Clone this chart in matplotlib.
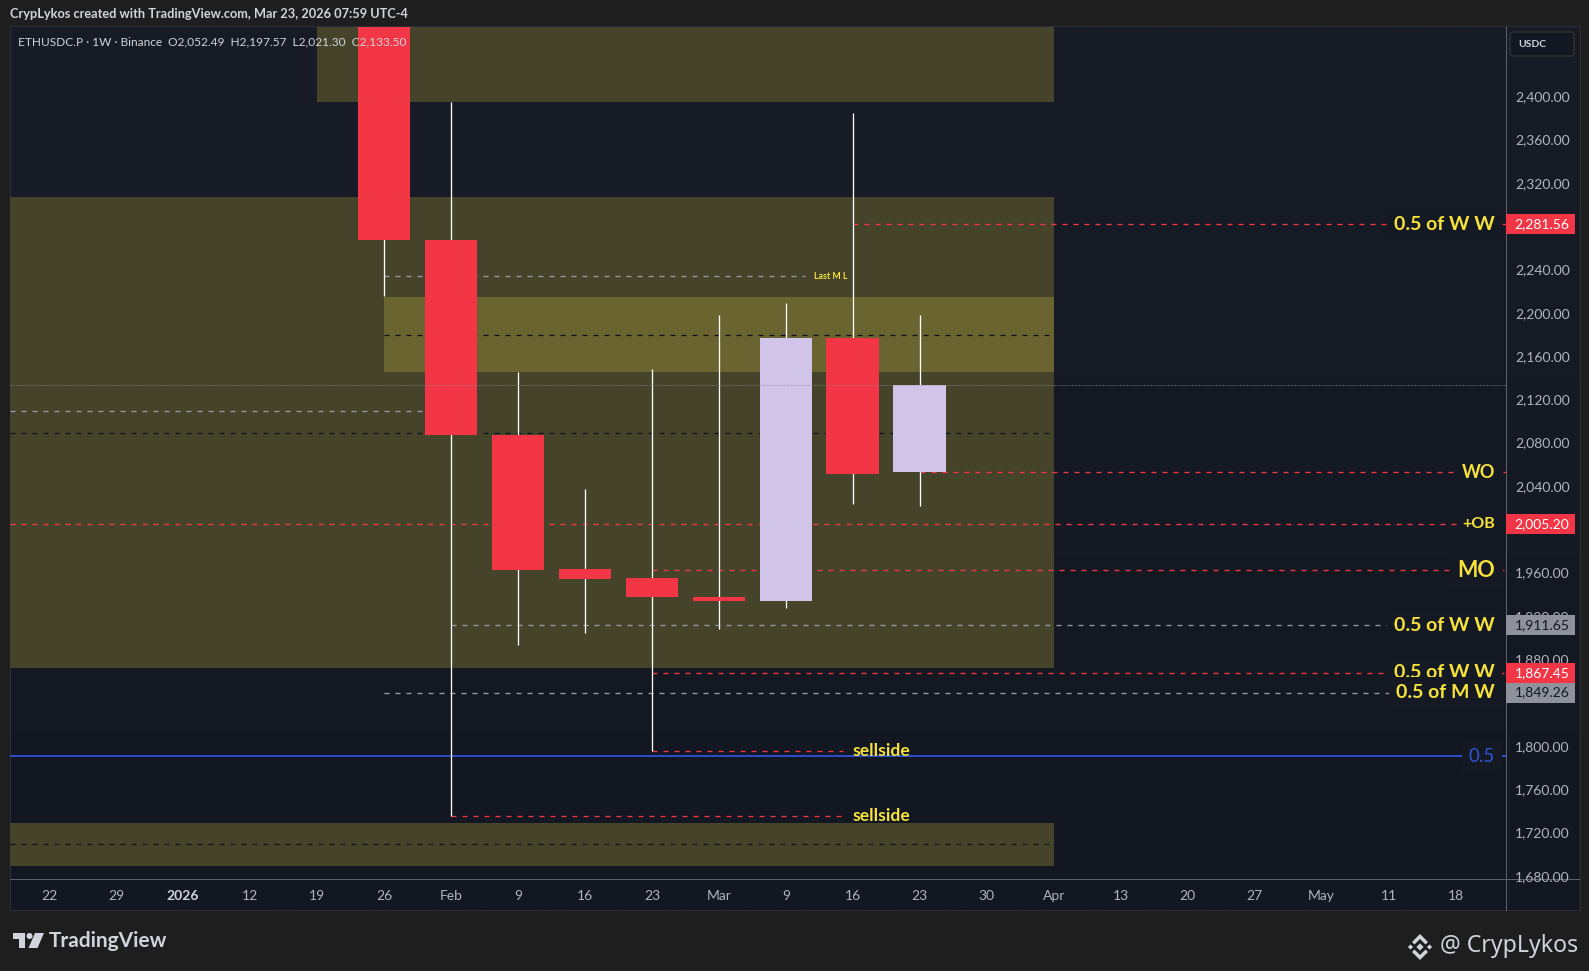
import matplotlib
matplotlib.use('Agg')
import matplotlib.pyplot as plt
import matplotlib.dates as mdates
import matplotlib.transforms as mtrans
from matplotlib.patches import Rectangle, Polygon, Circle, FancyBboxPatch
import numpy as np
import pandas as pd

plt.rcParams['font.family'] = ['Lato', 'DejaVu Sans']

# ---------------- data ----------------
tick_labels = ['22', '29', '2026', '12', '19', '26', 'Feb', '9', '16', '23', 'Mar',
               '9', '16', '23', '30', 'Apr', '13', '20', '27', 'May', '11', '18']
tick_dates = pd.date_range('2025-12-22', periods=len(tick_labels), freq='7D')

candle_dates = ['2026-01-26', '2026-02-02', '2026-02-09', '2026-02-16', '2026-02-23',
                '2026-03-02', '2026-03-09', '2026-03-16', '2026-03-23']
opens = [2700.00, 2267.00, 2087.00, 1963.00, 1954.70, 1937.20, 1933.50, 2176.40, 2052.49]
highs = [2800.00, 2394.50, 2145.00, 2037.00, 2147.80, 2197.70, 2208.80, 2384.30, 2197.57]
lows = [2215.20, 1734.90, 1893.10, 1904.20, 1795.80, 1907.60, 1927.30, 2023.40, 2021.30]
closes = [2267.00, 2087.00, 1962.10, 1953.80, 1937.20, 1933.50, 2176.40, 2051.10, 2133.50]

zone_start = ['2026-01-19', '2025-11-24', '2026-01-26', '2025-11-24']
zone_end = ['2026-04-06', '2026-04-06', '2026-04-06', '2026-04-06']
zone_low = [2394.50, 1871.60, 2145.30, 1689.60]
zone_high = [2600.00, 2306.70, 2214.30, 1729.30]
zone_kind = ['base', 'base', 'bright', 'base']
zone_midline = [False, True, True, True]

level_price = [2281.56, 2052.49, 2005.20, 1962.10, 1911.65, 1867.45, 1849.26]
level_text = ['0.5 of W W', 'WO', '+OB', 'MO', '0.5 of W W', '0.5 of W W', '0.5 of M W']
level_start = ['2026-03-16', '2026-03-23', '2025-11-24', '2026-02-23', '2026-02-02',
               '2026-02-23', '2026-01-26']
level_kind = ['red', 'red', 'red', 'red', 'grey', 'red', 'grey']
level_tag = [True, False, True, False, True, True, True]

sellside_price = [1795.80, 1734.90]
sellside_start = ['2026-02-23', '2026-02-02']

last_ml_price = 2233.50
grey_left_price = 2109.60
half_price = 1790.30
# axis labels that are not hidden behind price tags (2,000 and 1,840 are covered)
yticks = [1680, 1720, 1760, 1800, 1880, 1920, 1960, 2040, 2080, 2120, 2160,
          2200, 2240, 2320, 2360, 2400]

# ---------------- style ----------------
W, H, DPI = 1589, 971, 100
OUTER = '#1e1e1e'
BG = '#151924'
RED = '#f23645'
LAV = '#d1c4e9'
YEL = '#f7e33b'
GREY_LINE = '#9598a1'
TXT = '#b2b5be'
ZONE = '#45442b'
ZONE2 = '#6a6431'
BLUE = '#2a4cc4'
px = 72.0 / DPI  # points per pixel

fig = plt.figure(figsize=(W / DPI, H / DPI), dpi=DPI, facecolor=OUTER)

# background overlay in pixel coordinates
ov = fig.add_axes([0, 0, 1, 1])
ov.set_zorder(0)
ov.axis('off')
grad = np.linspace(0, 1, 256)[:, None, None]
top = np.array([24, 28, 39]) / 255.0
bot = np.array([19, 23, 34]) / 255.0
img = top + (bot - top) * grad
ov.imshow(img, extent=(10, 1579, 910, 27), aspect='auto', zorder=0, interpolation='bilinear')
ov.add_patch(Rectangle((9.5, 26.5), 1570, 884, fill=False, ec='#2a2e39', lw=1 * px, zorder=1))
ov.plot([10, 1579], [879.5, 879.5], color='#5d606b', lw=1 * px, zorder=2)
ov.plot([1506, 1506], [27, 910], color='#5d606b', lw=1 * px, zorder=2)
ov.set_xlim(0, W)
ov.set_ylim(H, 0)

ov.text(10, 14, 'CrypLykos created with TradingView.com, Mar 23, 2026 07:59 UTC-4',
        color='#d1d4dc', fontsize=9.2, fontweight='bold', va='center', ha='left')

# TradingView logo + text
LOGO = '#d1d4dc'
ov.add_patch(Polygon([(13, 933), (25, 933), (25, 948), (19, 948), (19, 939), (13, 939)],
                     closed=True, fc=LOGO, ec='none'))
ov.add_patch(Circle((29.5, 936), 3.0, fc=LOGO, ec='none'))
ov.add_patch(Polygon([(35, 933), (44, 933), (37.5, 948), (28.5, 948)], closed=True, fc=LOGO, ec='none'))
ov.text(49, 941, 'TradingView', color=LOGO, fontsize=15, fontweight='bold', va='center', ha='left')

# Binance logo + signature
cx, cy = 1420, 947
def diamond(x, y, r):
    return Polygon([(x, y - r), (x + r, y), (x, y + r), (x - r, y)], closed=True, fc=LOGO, ec='none')
ov.add_patch(diamond(cx, cy, 3.6))
ov.add_patch(diamond(cx - 9.5, cy, 2.6))
ov.add_patch(diamond(cx + 9.5, cy, 2.6))
ov.add_patch(Polygon([(cx - 8, cy - 5), (cx, cy - 13), (cx + 8, cy - 5), (cx + 5.5, cy - 2.5),
                      (cx, cy - 8), (cx - 5.5, cy - 2.5)], closed=True, fc=LOGO, ec='none'))
ov.add_patch(Polygon([(cx - 8, cy + 5), (cx, cy + 13), (cx + 8, cy + 5), (cx + 5.5, cy + 2.5),
                      (cx, cy + 8), (cx - 5.5, cy + 2.5)], closed=True, fc=LOGO, ec='none'))
ov.text(1440, 946, '@ CrypLykos', color=LOGO, fontsize=16.6, va='center', ha='left',
        family=['Noto Sans', 'DejaVu Sans'])

# ---------------- main chart ----------------
ax = fig.add_axes([10 / W, (H - 879) / H, 1496 / W, 852 / H])
ax.set_zorder(2)
ax.set_facecolor('none')
for s in ax.spines.values():
    s.set_visible(False)

d0 = mdates.date2num(pd.Timestamp('2025-12-22'))
px_per_day = 66.96 / 7.0
ax.set_xlim(d0 - 39.1 / px_per_day, d0 + 1456.6 / px_per_day)
ax.set_ylim(1677.2, 2463.7)
ymin, ymax = ax.get_ylim()
xmin, xmax = ax.get_xlim()
units_per_px = (ymax - ymin) / 852.0

def dn(s):
    return mdates.date2num(pd.Timestamp(s))

# zones
for s, e, lo, hi, kind, mid in zip(zone_start, zone_end, zone_low, zone_high, zone_kind, zone_midline):
    x0, x1 = dn(s), dn(e)
    ax.add_patch(Rectangle((x0, lo), x1 - x0, hi - lo, fc=ZONE2 if kind == 'bright' else ZONE,
                           ec='none', zorder=1))
    if mid:
        ax.plot([x0, x1], [(lo + hi) / 2] * 2, color='#10131c', lw=1.3 * px,
                dashes=(5 / 1.3, 6 / 1.3), zorder=1.5)

LWR = 1.35 * px
dash = (5.0 / 1.35, 6.0 / 1.35)

blend = mtrans.blended_transform_factory(ax.transAxes, ax.transData)
label_x = (1495 - 10) / 1496.0

def level_line(x0, price, color):
    ax.plot([x0, xmax], [price, price], color=color, lw=LWR, dashes=dash, zorder=2)

sizes = {'0.5 of W W': 14, '0.5 of M W': 14, 'WO': 13, '+OB': 11.5, 'MO': 15.5}
for p, t, s, k, tag in zip(level_price, level_text, level_start, level_kind, level_tag):
    color = RED if k == 'red' else GREY_LINE
    level_line(dn(s), p, color)
    ax.text(label_x, p, t, transform=blend, ha='right', va='center', color=YEL,
            fontsize=sizes[t], fontweight='bold', zorder=4,
            bbox=dict(boxstyle='square,pad=0.35', fc=BG, ec='none'))
    if tag:
        ax.add_patch(Rectangle((1.0, p - 10 * units_per_px), 69 / 1496.0, 20 * units_per_px,
                               transform=blend, fc=RED if k == 'red' else '#8f929b', ec='none',
                               clip_on=False, zorder=6))
        ax.text(1.0 + 36 / 1496.0, p, f'{p:,.2f}', transform=blend, ha='center', va='center',
                color='white' if k == 'red' else '#131722', fontsize=10,
                clip_on=False, zorder=7)

# sellside lines
for p, s in zip(sellside_price, sellside_start):
    ax.plot([dn(s), dn('2026-03-15')], [p, p], color=RED, lw=LWR, dashes=dash, zorder=2)
    ax.text(dn('2026-03-16'), p, 'sellside', ha='left', va='center', color=YEL,
            fontsize=12.6, fontweight='bold', zorder=4)

# Last M L
ax.plot([dn('2026-01-26'), dn('2026-03-11')], [last_ml_price] * 2, color=GREY_LINE, lw=LWR,
        dashes=dash, zorder=2)
ax.text(dn('2026-03-11 22:00'), last_ml_price, 'Last M L', ha='left', va='center', color=YEL,
        fontsize=6.3, fontweight='bold', zorder=4)

# grey left line
ax.plot([xmin, dn('2026-02-02')], [grey_left_price] * 2, color=GREY_LINE, lw=LWR, dashes=dash, zorder=2)

# blue 0.5 line
ax.plot([xmin, xmax], [half_price] * 2, color=BLUE, lw=2 * px, zorder=2.2)
ax.text(label_x, half_price, '0.5', transform=blend, ha='right', va='center', color='#2f55d4',
        fontsize=13.5, zorder=4, bbox=dict(boxstyle='square,pad=0.35', fc=BG, ec='none'))

# candles
body_w = 5.5
for d, o, h, l, c in zip(candle_dates, opens, highs, lows, closes):
    x = dn(d)
    col = LAV if c >= o else RED
    ax.plot([x, x], [l, h], color='white', lw=1.3 * px, zorder=3, solid_capstyle='butt')
    ax.add_patch(Rectangle((x - body_w / 2, min(o, c)), body_w, abs(c - o), fc=col, ec='none', zorder=3.1))

# current price dotted line
ax.plot([xmin, xmax], [closes[-1]] * 2, color='#8a8d96', lw=1 * px, dashes=(1, 2), zorder=3.5)

# axes ticks
ax.yaxis.tick_right()
ax.set_yticks(yticks)
ax.set_yticklabels([f'{v:,.2f}' for v in yticks])
ax.set_xticks([mdates.date2num(t) for t in tick_dates])
ax.set_xticklabels(tick_labels)
ax.tick_params(axis='y', length=0, pad=6.5, colors=TXT, labelsize=10)
ax.tick_params(axis='x', length=0, pad=8, colors=TXT, labelsize=10)
for lbl in ax.get_xticklabels():
    if lbl.get_text() == '2026':
        lbl.set_fontweight('bold')
        lbl.set_color('#d1d4dc')

# top overlay (legend header, currency box) drawn above the chart
top_ov = fig.add_axes([0, 0, 1, 1])
top_ov.set_zorder(5)
top_ov.axis('off')
top_ov.patch.set_alpha(0)
top_ov.set_xlim(0, W)
top_ov.set_ylim(H, 0)
top_ov.text(18, 41.5, 'ETHUSDC.P \u00b7 1W \u00b7 Binance  O2,052.49  H2,197.57  L2,021.30  C2,133.50',
            color='#d1d4dc', fontsize=8.6, va='center', ha='left')
top_ov.add_patch(FancyBboxPatch((1510, 32), 64, 24, boxstyle='round,pad=0,rounding_size=3',
                                fc='#131722', ec='#3b3c33', lw=1 * px))
top_ov.text(1518, 44.5, 'USDC', color='#d1d4dc', fontsize=7.5, fontweight='bold', va='center',
            ha='left')

fig.savefig('out.png', dpi=DPI, facecolor=OUTER)
